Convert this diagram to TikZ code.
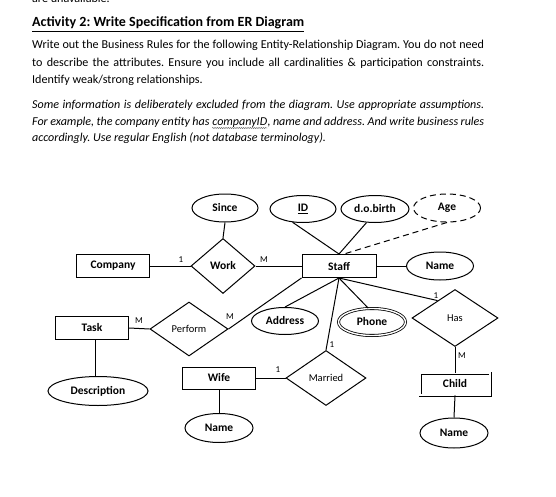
\documentclass[tikz,border=0pt]{standalone}
\usepackage{fontspec}
\setmainfont{Carlito}
\usetikzlibrary{shapes.geometric,calc,decorations.pathmorphing}
\frenchspacing
\newcommand{\wavyword}[1]{\tikz[baseline=(ww.base)]{\node[inner sep=0pt] (ww) {#1};\draw[decorate,decoration={snake,amplitude=0.5pt,segment length=2.2pt},line width=0.4pt,black!70] ([yshift=-2pt]ww.base west) -- ([yshift=-2pt]ww.base east);}}
\begin{document}
\begin{tikzpicture}[x=1pt,y=-1pt,
  every node/.style={text=black},
  ent/.style={draw,line width=1pt,rectangle,minimum width=73pt,minimum height=23pt,inner sep=0pt,font=\fontsize{11.5}{13}\selectfont\bfseries},
  attr/.style={draw,line width=1pt,ellipse,minimum width=67pt,minimum height=28pt,inner sep=0pt,font=\fontsize{11.5}{13}\selectfont\bfseries},
  rel/.style={draw,line width=1pt,diamond,inner sep=0pt,font=\fontsize{10.5}{12}\selectfont},
  card/.style={font=\fontsize{9}{10}\selectfont,inner sep=0pt},
  conn/.style={line width=1pt},
  txt/.style={anchor=base west,inner sep=0pt,font=\fontsize{12.1}{14}\selectfont},
  itxt/.style={anchor=base west,inner sep=0pt,font=\fontsize{12.05}{14}\selectfont\itshape}
]
\useasboundingbox (0,0) rectangle (556,497);
\clip (0,0) rectangle (556,497);
\fill[white] (0,0) rectangle (556,497);
% text block
\node[txt] (l0) at (32,3) {are unavailable.};
\node[txt,font=\fontsize{14}{16}\selectfont\bfseries] (head) at (32,27) {\underline{Activity 2: Write Specification from ER Diagram}};
\node[txt] (l1) at (32,49) {\makebox[452pt][s]{Write out the Business Rules for the following Entity-Relationship Diagram. You do not need}};
\node[txt] (l2) at (32,67) {\makebox[452pt][s]{to describe the attributes. Ensure you include all cardinalities \& participation constraints.}};
\node[txt] (l3) at (32,84) {Identify weak/strong relationships.};
\node[itxt] (l4) at (32,109) {\makebox[452pt][s]{Some information is deliberately excluded from the diagram. Use appropriate assumptions.}};
\node[itxt] (l5) at (32,126) {\makebox[452pt][s]{For example, the company entity has \wavyword{companyID}, name and address. And write business rules}};
\node[itxt] (l6) at (32,142) {accordingly. Use regular English (not database terminology).};
% attributes top
\node[attr,minimum width=66pt] (since) at (225,208) {Since};
\node[attr,minimum width=66pt,minimum height=27pt] (id) at (303,209) {\underline{ID}};
\node[attr,minimum width=68pt,minimum height=27pt] (dob) at (375,209) {d.o.birth};
\node[attr,dashed,dash pattern=on 6pt off 4pt] (age) at (447,208) {Age};
% row 2
\node[ent] (company) at (113,266) {Company};
\node[rel,minimum width=64pt,minimum height=55pt,font=\fontsize{11.5}{13}\selectfont\bfseries] (work) at (223,266) {Work};
\node[ent,minimum width=74pt] (staff) at (339,266) {Staff};
\node[attr] (sname) at (440,266) {Name};
% row 3
\node[ent] (task) at (92,328) {Task};
\node[rel,minimum width=78pt,minimum height=54pt] (perform) at (189,329) {Perform};
\node[attr,minimum height=27pt] (address) at (285,321) {Address};
\node[attr,double,double distance=1.4pt,line width=0.8pt,minimum width=67pt,minimum height=27pt] (phone) at (372,322) {Phone};
\node[rel,minimum width=86pt,minimum height=57pt] (has) at (455,318) {Has};
% row 4
\node[rel,minimum width=80pt,minimum height=55pt] (married) at (326,378) {Married};
\node[ent,minimum height=22pt] (wife) at (219,378) {Wife};
\node[ent,double,double distance=1.4pt,line width=0.8pt,minimum width=70pt,minimum height=22pt] (child) at (455,384) {Child};
\node[attr,minimum width=100pt,minimum height=29pt] (desc) at (98,391) {Description};
% row 5
\node[attr,minimum width=68pt,minimum height=29pt] (wname) at (219,428) {Name};
\node[attr,minimum width=68pt,minimum height=30pt] (cname) at (454,433) {Name};
% connectors
\draw[conn] (since.south) -- (work.north);
\draw[conn] (id.232) -- (staff.north);
\draw[conn] (dob.238) -- (staff.north);
\draw[conn,dashed,dash pattern=on 6pt off 4pt] (age.south) -- ([xshift=5pt]staff.north);
\draw[conn] (company.east) -- (work.west);
\draw[conn] (work.east) -- (staff.west);
\draw[conn] (staff.east) -- (sname.west);
\draw[conn] (task.east) -- (perform.west);
\draw[conn] ([xshift=3.5pt]task.south) -- ([xshift=-2.5pt]desc.north);
\draw[conn] (perform.east) -- (staff.south west);
\draw[conn] (address.north) -- (staff.south);
\draw[conn] (phone.105) -- (staff.south);
\draw[conn] (married.north) -- (staff.south);
\draw[conn] (staff.south) -- ($(has.west)!0.6!(has.north)$);
\draw[conn] (has.south) -- (child.north);
\draw[conn] (child.south) -- (cname.north);
\draw[conn] (wife.east) -- (married.west);
\draw[conn] (wife.south) -- (wname.north);
% cardinalities
\node[card] (c1) at (181,260) {1};
\node[card] (c2) at (264,260) {M};
\node[card] (c3) at (139,321) {M};
\node[card] (c4) at (230,317) {M};
\node[card] (c5) at (332,345) {1};
\node[card] (c6) at (278,370) {1};
\node[card] (c7) at (436,296) {1};
\node[card] (c8) at (462,356) {M};
\end{tikzpicture}
\end{document}
